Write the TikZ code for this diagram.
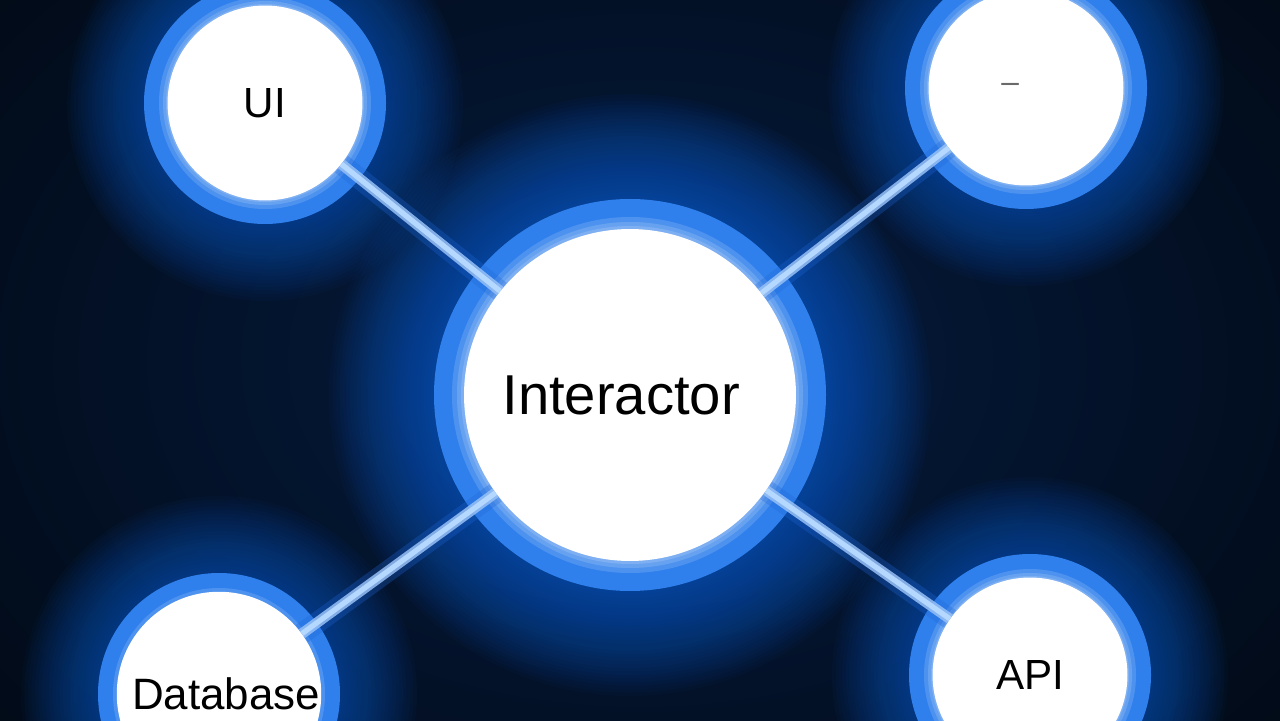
\documentclass[tikz,border=0pt]{standalone}
\usepackage{fontspec}
\setmainfont{Liberation Sans}
\usetikzlibrary{backgrounds}

\definecolor{bgdark}{HTML}{010812}
\definecolor{bgmid}{HTML}{051C40}
\definecolor{ringblue}{HTML}{2F80EC}
\definecolor{glowblue}{HTML}{1E66D8}
\definecolor{linkblue}{HTML}{B4D8FF}
\definecolor{dashgray}{HTML}{6A6A6A}

\tikzset{
  hub/.style={circle, fill=white, minimum size=6.64cm, inner sep=0pt,
    font=\fontsize{32}{36}\selectfont},
  satellite/.style={circle, fill=white, minimum size=3.9cm, inner sep=0pt,
    font=\fontsize{24}{28}\selectfont},
  linkglow/.style={glowblue, line width=12pt, opacity=0.3},
  linkmid/.style={ringblue!50!white, line width=6pt, opacity=0.85},
  link/.style={linkblue, line width=3pt},
}

\begin{document}
\begin{tikzpicture}[x=0.02cm,y=0.02cm]
\useasboundingbox (0,0) rectangle (1280,720);

% nodes
\node[hub] (interactor) at (630,325) {\kern-10pt Interactor};
\node[satellite] (ui) at (265,617) {UI};
\node[satellite] (misc) at (1026,632) {\kern-18pt\raisebox{-5pt}{\fontsize{18}{20}\selectfont\textcolor{dashgray}{–}}};
\node[satellite] (database) at (219,26) {\kern8pt\raisebox{-4pt}{\fontsize{25}{28}\selectfont Database}};
\node[satellite] (api) at (1030,45) {API};

\begin{scope}[on background layer]
% background
\shade[inner color=bgmid, outer color=bgdark] (-300,-300) rectangle (1580,1020);

% glow and rings
\foreach \k in {1,...,30}
  \fill[glowblue, opacity=0.035] (interactor) circle ({196+3.5*\k});
\fill[ringblue] (interactor) circle (196);
\foreach \d in {3,7,12}
  \fill[white, opacity=0.15] (interactor) circle ({166+\d});

\foreach \n in {ui, misc, database, api} {
  \foreach \k in {1,...,22}
    \fill[glowblue, opacity=0.035] (\n) circle ({121+3.5*\k});
  \fill[ringblue] (\n) circle (121);
  \foreach \d in {2,5,9}
    \fill[white, opacity=0.15] (\n) circle ({97+\d});
}

% connectors
\foreach \n in {ui, misc, database, api} {
  \draw[linkglow] (interactor) -- (\n);
  \draw[linkmid] (interactor) -- (\n);
  \draw[link] (interactor) -- (\n);
}
\end{scope}
\end{tikzpicture}
\end{document}
